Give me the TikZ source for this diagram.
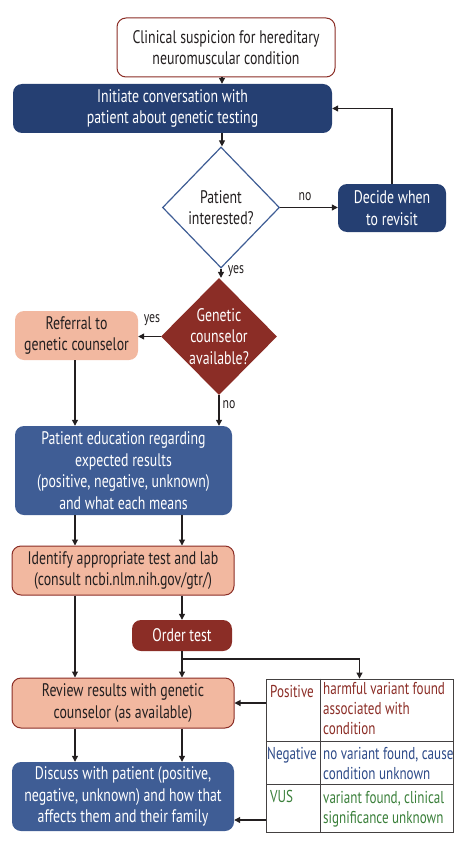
\documentclass[tikz,border=0pt]{standalone}
\usepackage{fontspec}
\setmainfont{PT Sans}[FakeStretch=0.76]
\usetikzlibrary{shapes.geometric,arrows.meta,calc}
\definecolor{dred}{HTML}{8B2D26}
\definecolor{dblue}{HTML}{253F72}
\definecolor{mblue}{HTML}{3F5D95}
\definecolor{salmon}{HTML}{F2B8A0}
\definecolor{tgreen}{HTML}{3A7F3A}
\definecolor{tblue}{HTML}{2D4A88}
\definecolor{ink}{HTML}{231F20}
\begin{document}
\begin{tikzpicture}[x=1pt,y=-1pt,
  font=\fontsize{18.2}{21.5}\selectfont, text=ink,
  box/.style={rectangle, rounded corners=9pt, align=center, inner sep=0pt},
  darkbox/.style={box, fill=dblue, text=white},
  medbox/.style={box, fill=mblue, text=white},
  salbox/.style={box, fill=salmon, draw=dred, line width=1pt},
  arr/.style={-{Triangle[length=6pt,width=6pt]}, line width=1.1pt, draw=ink},
  lbl/.style={font=\fontsize{15.5}{17}\selectfont, inner sep=1pt},
  cell/.style={anchor=north west, align=left, inner sep=0pt, font=\fontsize{17.2}{20.3}\selectfont}]
\useasboundingbox (0,0) rectangle (470,845);

% nodes
\node[box, fill=white, draw=dred, line width=1pt, minimum width=218pt, minimum height=59pt] (start) at (226,47.5)
  {Clinical suspicion for hereditary\\neuromuscular condition};
\node[darkbox, minimum width=319pt, minimum height=49pt] (init) at (172.5,108.5)
  {Initiate conversation with\\patient about genetic testing};
\node[diamond, draw=mblue, line width=1.2pt, fill=white, minimum width=117pt, minimum height=121pt, inner sep=0pt,
  label={[align=center]center:Patient\\interested?}] (interest) at (221,207.5) {};
\node[darkbox, minimum width=108pt, minimum height=48pt] (revisit) at (392,208)
  {Decide when\\to revisit};
\node[diamond, fill=dred, minimum width=116pt, minimum height=117pt, inner sep=0pt,
  label={[align=center,text=white]center:Genetic\\counselor\\available?}] (gc) at (219,336.5) {};
\node[box, fill=salmon, minimum width=123pt, minimum height=49pt] (referral) at (76.5,335.5)
  {Referral to\\genetic counselor};
\node[medbox, minimum width=217pt, minimum height=89pt] (educ) at (123.5,470.5)
  {Patient education regarding\\expected results\\(positive, negative, unknown)\\and what each means};
\node[salbox, minimum width=222pt, minimum height=49pt] (identify) at (123,570.5)
  {Identify appropriate test and lab\\(consult ncbi.nlm.nih.gov/gtr/)};
\node[box, fill=dred, text=white, minimum width=100pt, minimum height=31pt] (order) at (182,635.5)
  {Order test};
\node[salbox, minimum width=222pt, minimum height=50pt] (review) at (123,703)
  {Review results with genetic\\counselor (as available)};
\node[medbox, minimum width=222pt, minimum height=69pt] (discuss) at (123,796.5)
  {Discuss with patient (positive,\\negative, unknown) and how that\\affects them and their family};

% results table
\node[rectangle, draw=ink!85, line width=0.9pt, minimum width=187pt, minimum height=153pt, inner sep=0pt] (tbl) at (359.5,755.5) {};
\coordinate (colsep) at (320,679);
\draw[ink!85, line width=0.9pt] (tbl.north -| colsep) -- (tbl.south -| colsep);
\draw[ink!85, line width=0.9pt] (266,741) -- (453,741);
\draw[ink!85, line width=0.9pt] (266,784) -- (453,784);
\node[cell, text=dred] (pos) at (270,685) {Positive};
\node[cell, text=dred] (posd) at (323,682) {harmful variant found\\associated with\\condition};
\node[cell, text=tblue] (neg) at (267,747) {Negative};
\node[cell, text=tblue] (negd) at (323,747) {no variant found, cause\\condition unknown};
\node[cell, text=tgreen] (vus) at (270,790) {VUS};
\node[cell, text=tgreen] (vusd) at (323,791) {variant found, clinical\\significance unknown};

% connectors
\draw[arr] (start.south -| 222,0) -- (init.north -| 222,0);
\draw[arr] (init.south -| 222,0) -- (interest.north -| 222,0);
\draw[arr] (interest.east) -- (revisit.west |- interest.east);
\node[lbl] (nolbl1) at (305,197) {no};
\draw[arr] (revisit.north) -- (revisit.north |- init.east) -- (init.east);
\draw[arr] (interest.south) -- (interest.south |- gc.north);
\node[lbl] (yeslbl1) at (236,271) {yes};
\draw[arr] (gc.west) -- (referral.east |- gc.west);
\node[lbl] (yeslbl2) at (152,320) {yes};
\draw[arr] (gc.south) -- (gc.south |- educ.north);
\node[lbl] (nolbl2) at (229,405) {no};
\draw[arr] (referral.south -| 75,0) -- (educ.north -| 75,0);
\draw[arr] (educ.south -| 75,0) -- (identify.north -| 75,0);
\draw[arr] (educ.south -| 182,0) -- (identify.north -| 182,0);
\draw[arr] (identify.south -| 75,0) -- (review.north -| 75,0);
\draw[arr] (identify.south -| 182,0) -- (order.north);
\coordinate (branch) at (182,659);
\draw[arr] (order.south) -- (review.north -| order.south);
\draw[arr] (branch) -- (branch -| tbl.north) -- (tbl.north);
\draw[arr] (review.east -| tbl.west) -- (review.east);
\draw[arr] (tbl.west |- 0,820) -- (discuss.east |- 0,820);
\draw[arr] (review.south -| 75,0) -- (discuss.north -| 75,0);
\draw[arr] (review.south -| 182,0) -- (discuss.north -| 182,0);
\end{tikzpicture}
\end{document}
